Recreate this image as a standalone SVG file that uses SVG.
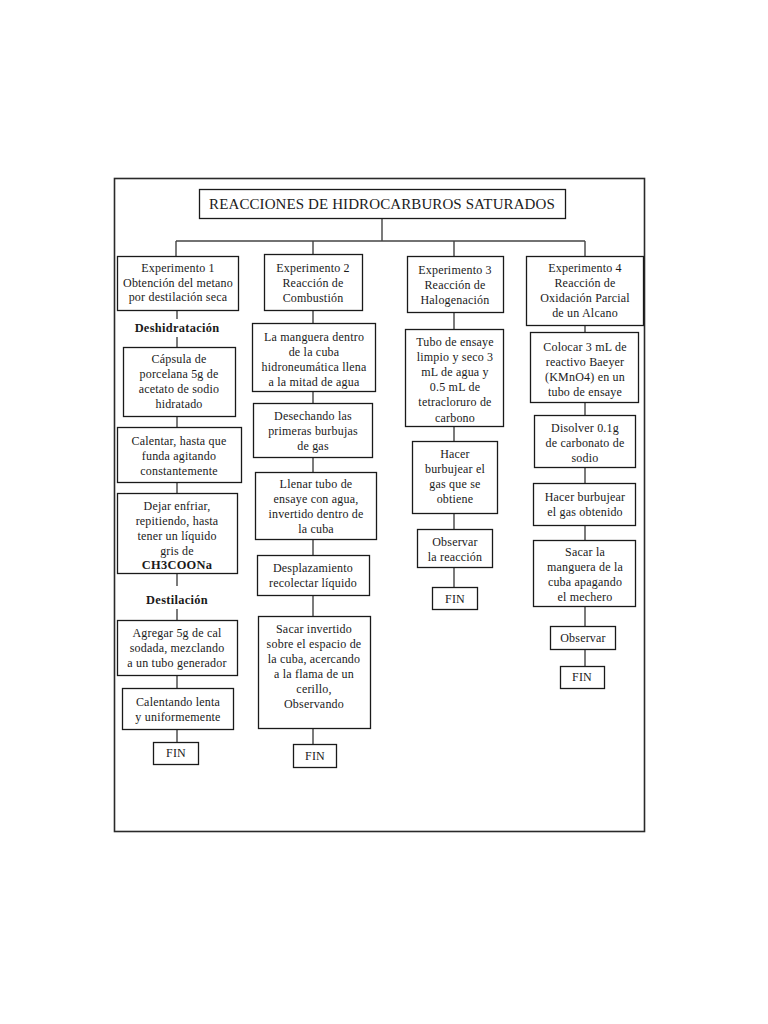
<svg xmlns="http://www.w3.org/2000/svg" width="768" height="1024" viewBox="0 0 768 1024">
<style>
.bx{fill:#fff;stroke:#1a1a1a;stroke-width:1.3}
.fr{fill:#fff;stroke:#2a2a2a;stroke-width:1.6}
.cn{stroke:#444;stroke-width:1.4;fill:none}
text{font-family:"Liberation Serif","Times New Roman",serif;font-size:12px;letter-spacing:0.2px;fill:#1a1a1a;text-anchor:middle;dominant-baseline:central}
.b{font-weight:bold;font-size:12.4px;letter-spacing:0.3px}
.t{font-size:15px;letter-spacing:0.1px}
</style>
<rect width="768" height="1024" fill="#fff"/>
<rect class="fr" x="114.5" y="178.5" width="530" height="653"/>
<g id="connectors">
<path class="cn" d="M382 219V241M176 241H585M176 241V256M313 241V254M454 241V256M585 241V256"/>
<path class="cn" d="M177 311V319M177 337V347M177 417V427M177 483V493M177 574V586M177 609V620M177 676V688M177 730V742"/>
<path class="cn" d="M313 311V323M313 392V403M313 458V472M313 540V555M313 596V616M313 729V744"/>
<path class="cn" d="M454 313V329M454 427V441M454 514V529M454 568V587"/>
<path class="cn" d="M585 326V332M585 403V415M585 468V483M585 526V540M585 607V626M585 650V666"/>
</g>
<g id="title"><rect class="bx" x="199.5" y="189.5" width="366" height="29"/><text class="t" x="382" y="204">REACCIONES DE HIDROCARBUROS SATURADOS</text></g>
<g id="exp1"><rect class="bx" x="117.5" y="256.5" width="121" height="54"/><text x="178" y="268">Experimento 1</text><text x="178" y="283">Obtención del metano</text><text x="178" y="297">por destilación seca</text></g>
<g id="deshidratacion"><text class="b" x="177" y="328">Deshidratación</text></g>
<g id="capsula"><rect class="bx" x="123.5" y="347.5" width="112" height="69"/><text x="179" y="359">Cápsula de</text><text x="179" y="374">porcelana 5g de</text><text x="179" y="389">acetato de sodio</text><text x="179" y="404">hidratado</text></g>
<g id="calentar"><rect class="bx" x="117.5" y="427.5" width="124" height="55"/><text x="179" y="441">Calentar, hasta que</text><text x="179" y="456">funda agitando</text><text x="179" y="471">constantemente</text></g>
<g id="dejar"><rect class="bx" x="117.5" y="493.5" width="120" height="80"/><text x="177" y="506">Dejar enfriar,</text><text x="177" y="521">repitiendo, hasta</text><text x="177" y="536">tener un líquido</text><text x="177" y="551">gris de</text><text class="b" x="177" y="565">CH3COONa</text></g>
<g id="destilacion"><text class="b" x="177" y="600">Destilación</text></g>
<g id="agregar"><rect class="bx" x="117.5" y="620.5" width="120" height="55"/><text x="177" y="633">Agregar 5g de cal</text><text x="177" y="648">sodada, mezclando</text><text x="177" y="663">a un tubo generador</text></g>
<g id="calentando"><rect class="bx" x="122.5" y="688.5" width="111" height="41"/><text x="178" y="702">Calentando lenta</text><text x="178" y="717">y uniformemente</text></g>
<g id="fin1"><rect class="bx" x="153.5" y="742.5" width="45" height="22"/><text x="176" y="753">FIN</text></g>
<g id="exp2"><rect class="bx" x="264.5" y="254.5" width="98" height="56"/><text x="313" y="268">Experimento 2</text><text x="313" y="283">Reacción de</text><text x="313" y="298">Combustión</text></g>
<g id="manguera"><rect class="bx" x="252.5" y="323.5" width="123" height="68"/><text x="314" y="337">La manguera dentro</text><text x="314" y="352">de la cuba</text><text x="314" y="367">hidroneumática llena</text><text x="314" y="382">a la mitad de agua</text></g>
<g id="desechando"><rect class="bx" x="253.5" y="403.5" width="119" height="54"/><text x="313" y="416">Desechando las</text><text x="313" y="431">primeras burbujas</text><text x="313" y="446">de gas</text></g>
<g id="llenar"><rect class="bx" x="255.5" y="472.5" width="121" height="67"/><text x="316" y="484">Llenar tubo de</text><text x="316" y="499">ensaye con agua,</text><text x="316" y="514">invertido dentro de</text><text x="316" y="529">la cuba</text></g>
<g id="desplazamiento"><rect class="bx" x="257.5" y="555.5" width="112" height="40"/><text x="313" y="568">Desplazamiento</text><text x="313" y="583">recolectar líquido</text></g>
<g id="sacar2"><rect class="bx" x="258.5" y="616.5" width="112" height="112"/><text x="314" y="629">Sacar invertido</text><text x="314" y="644">sobre el espacio de</text><text x="314" y="659">la cuba, acercando</text><text x="314" y="674">a la flama de un</text><text x="314" y="689">cerillo,</text><text x="314" y="704">Observando</text></g>
<g id="fin2"><rect class="bx" x="293.5" y="744.5" width="43" height="23"/><text x="315" y="756">FIN</text></g>
<g id="exp3"><rect class="bx" x="407.5" y="256.5" width="96" height="56"/><text x="455" y="270">Experimento 3</text><text x="455" y="285">Reacción de</text><text x="455" y="300">Halogenación</text></g>
<g id="tubo"><rect class="bx" x="405.5" y="329.5" width="98" height="97"/><text x="455" y="342">Tubo de ensaye</text><text x="455" y="357">limpio y seco 3</text><text x="455" y="372">mL de agua y</text><text x="455" y="387">0.5 mL de</text><text x="455" y="402">tetracloruro de</text><text x="455" y="418">carbono</text></g>
<g id="hacer3"><rect class="bx" x="412.5" y="441.5" width="85" height="72"/><text x="455" y="454">Hacer</text><text x="455" y="469">burbujear el</text><text x="455" y="484">gas que se</text><text x="455" y="499">obtiene</text></g>
<g id="observar3"><rect class="bx" x="417.5" y="529.5" width="75" height="38"/><text x="455" y="542">Observar</text><text x="455" y="557">la reacción</text></g>
<g id="fin3"><rect class="bx" x="432.5" y="587.5" width="45" height="22"/><text x="455" y="599">FIN</text></g>
<g id="exp4"><rect class="bx" x="526.5" y="256.5" width="117" height="69"/><text x="585" y="268">Experimento 4</text><text x="585" y="283">Reacción de</text><text x="585" y="298">Oxidación Parcial</text><text x="585" y="313">de un Alcano</text></g>
<g id="colocar"><rect class="bx" x="530.5" y="332.5" width="108" height="70"/><text x="585" y="347">Colocar 3 mL de</text><text x="585" y="362">reactivo Baeyer</text><text x="585" y="377">(KMnO4) en un</text><text x="585" y="392">tubo de ensaye</text></g>
<g id="disolver"><rect class="bx" x="534.5" y="415.5" width="101" height="52"/><text x="585" y="428">Disolver 0.1g</text><text x="585" y="443">de carbonato de</text><text x="585" y="458">sodio</text></g>
<g id="hacer4"><rect class="bx" x="533.5" y="483.5" width="102" height="42"/><text x="585" y="497">Hacer burbujear</text><text x="585" y="512">el gas obtenido</text></g>
<g id="sacar4"><rect class="bx" x="533.5" y="540.5" width="102" height="66"/><text x="585" y="552">Sacar la</text><text x="585" y="567">manguera de la</text><text x="585" y="582">cuba apagando</text><text x="585" y="597">el mechero</text></g>
<g id="observar4"><rect class="bx" x="550.5" y="626.5" width="65" height="23"/><text x="583" y="638">Observar</text></g>
<g id="fin4"><rect class="bx" x="560.5" y="666.5" width="44" height="22"/><text x="582" y="677">FIN</text></g>
</svg>
